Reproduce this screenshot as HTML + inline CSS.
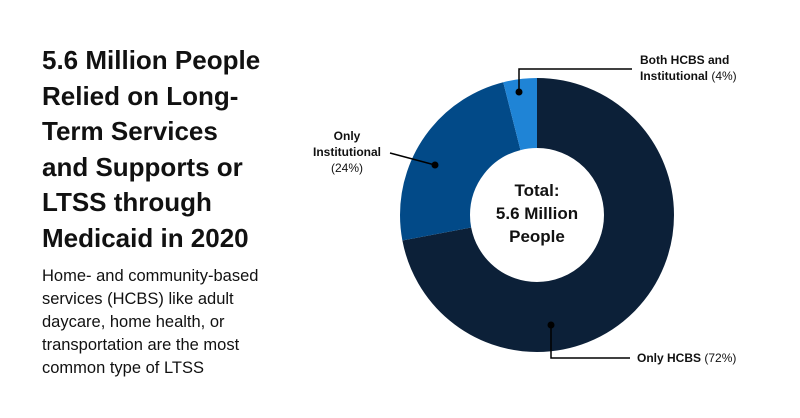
<!DOCTYPE html>
<html><head><style>
body{margin:0;width:800px;height:418px;background:#fff;overflow:hidden;font-family:"Liberation Sans",sans-serif;}
.t{position:absolute;left:42px;top:43px;font-size:26px;font-weight:bold;line-height:35.5px;color:#111;}
.s{position:absolute;left:42px;top:265px;font-size:16.5px;line-height:23px;color:#111;}
</style></head><body>
<div class="t">5.6 Million People<br>Relied on Long-<br>Term Services<br>and Supports or<br>LTSS through<br>Medicaid in 2020</div>
<div class="s">Home- and community-based<br>services (HCBS) like adult<br>daycare, home health, or<br>transportation are the most<br>common type of LTSS</div>
<svg width="800" height="418" style="position:absolute;left:0;top:0">
<g transform="rotate(-90 537 215)">
<circle cx="537" cy="215" r="102" fill="none" stroke="#0c2038" stroke-width="70" stroke-dasharray="461.4 1000"/>
<circle cx="537" cy="215" r="102" fill="none" stroke="#024a88" stroke-width="70" stroke-dasharray="0 461.4 153.8 1000"/>
<circle cx="537" cy="215" r="102" fill="none" stroke="#1f84d6" stroke-width="70" stroke-dasharray="0 615.2 25.7 1000"/>
</g>
<g stroke="#000" stroke-width="1.5" fill="none">
<polyline points="519,92 519,69 632,69"/>
<polyline points="390,153 435,165"/>
<polyline points="551,325 551,358 630,358"/>
</g>
<circle cx="519" cy="92" r="3.5"/><circle cx="435" cy="165" r="3.5"/><circle cx="551" cy="325" r="3.5"/>
<g font-family="Liberation Sans,sans-serif" font-size="12" fill="#111">
<text x="640" y="64" font-weight="bold">Both HCBS and</text>
<text x="640" y="80"><tspan font-weight="bold">Institutional</tspan> (4%)</text>
<text x="347" y="140" text-anchor="middle" font-weight="bold">Only</text>
<text x="347" y="156" text-anchor="middle" font-weight="bold">Institutional</text>
<text x="347" y="172" text-anchor="middle">(24%)</text>
<text x="637" y="362"><tspan font-weight="bold">Only HCBS</tspan> (72%)</text>
</g>
<g font-family="Liberation Sans,sans-serif" font-size="17" font-weight="bold" fill="#111" text-anchor="middle">
<text x="537" y="196">Total:</text>
<text x="537" y="219">5.6 Million</text>
<text x="537" y="242">People</text>
</g>
</svg>
</body></html>
